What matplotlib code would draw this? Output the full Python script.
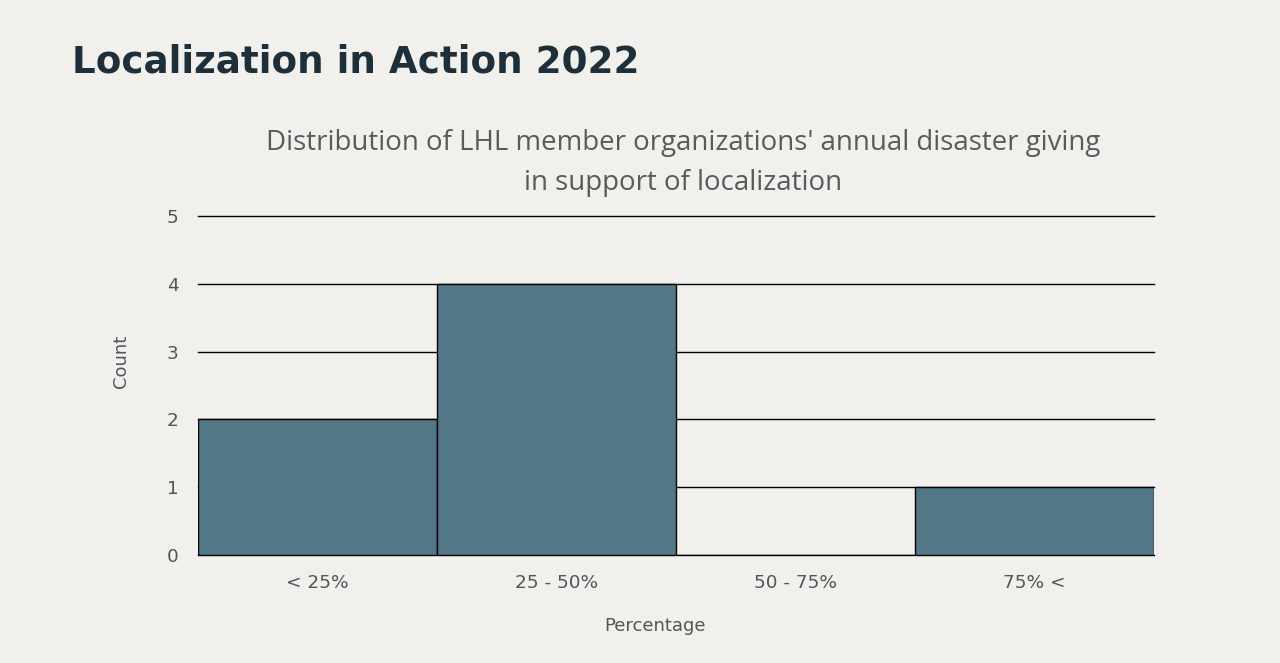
import matplotlib.pyplot as plt

# Data
categories = ['< 25%', '25 - 50%', '50 - 75%', '75% <']
counts = [2, 4, 0, 1]
y_ticks = [0, 1, 2, 3, 4, 5]

bg = '#f2f0ec'
bar_color = '#527787'
text_gray = '#555555'

fig = plt.figure(figsize=(12.8, 6.63), dpi=100, facecolor=bg)
ax = fig.add_axes([0.1547, 0.1629, 0.7469, 0.5113])
ax.set_facecolor(bg)

x = range(len(categories))
ax.bar(x, counts, width=1.0, color=bar_color, edgecolor='black', linewidth=1.0, zorder=3)

ax.set_xlim(-0.5, len(categories) - 0.5)
ax.set_ylim(0, 5)
ax.set_yticks(y_ticks)
ax.set_xticks(list(x))
ax.set_xticklabels(categories)
ax.grid(axis='y', color='black', linewidth=1.0, zorder=0)
for gl in ax.get_ygridlines():
    gl.set_clip_on(False)
ax.tick_params(length=0, labelsize=13.3, labelcolor=text_gray, pad=14)
for s in ax.spines.values():
    s.set_visible(False)

ax.set_xlabel('Percentage', fontsize=13, color=text_gray)
ax.set_ylabel('Count', fontsize=13, color=text_gray)
ax.xaxis.set_label_coords(0.478, -0.182)
ax.yaxis.set_label_coords(-0.0711, 0.572)

# Chart title and subtitle
fig.text(72 / 1280, 1 - 62 / 663, 'Localization in Action 2022', fontsize=26.8,
         fontweight='bold', color='#1f2f3a', ha='left', va='center')
fig.text(683 / 1280, 1 - 163 / 663,
         "Distribution of LHL member organizations' annual disaster giving\nin support of localization",
         fontsize=19.9, family='Open Sans', color='#5a5a5a', ha='center', va='center',
         linespacing=1.59)

plt.savefig('out.png', dpi=100, facecolor=bg)
